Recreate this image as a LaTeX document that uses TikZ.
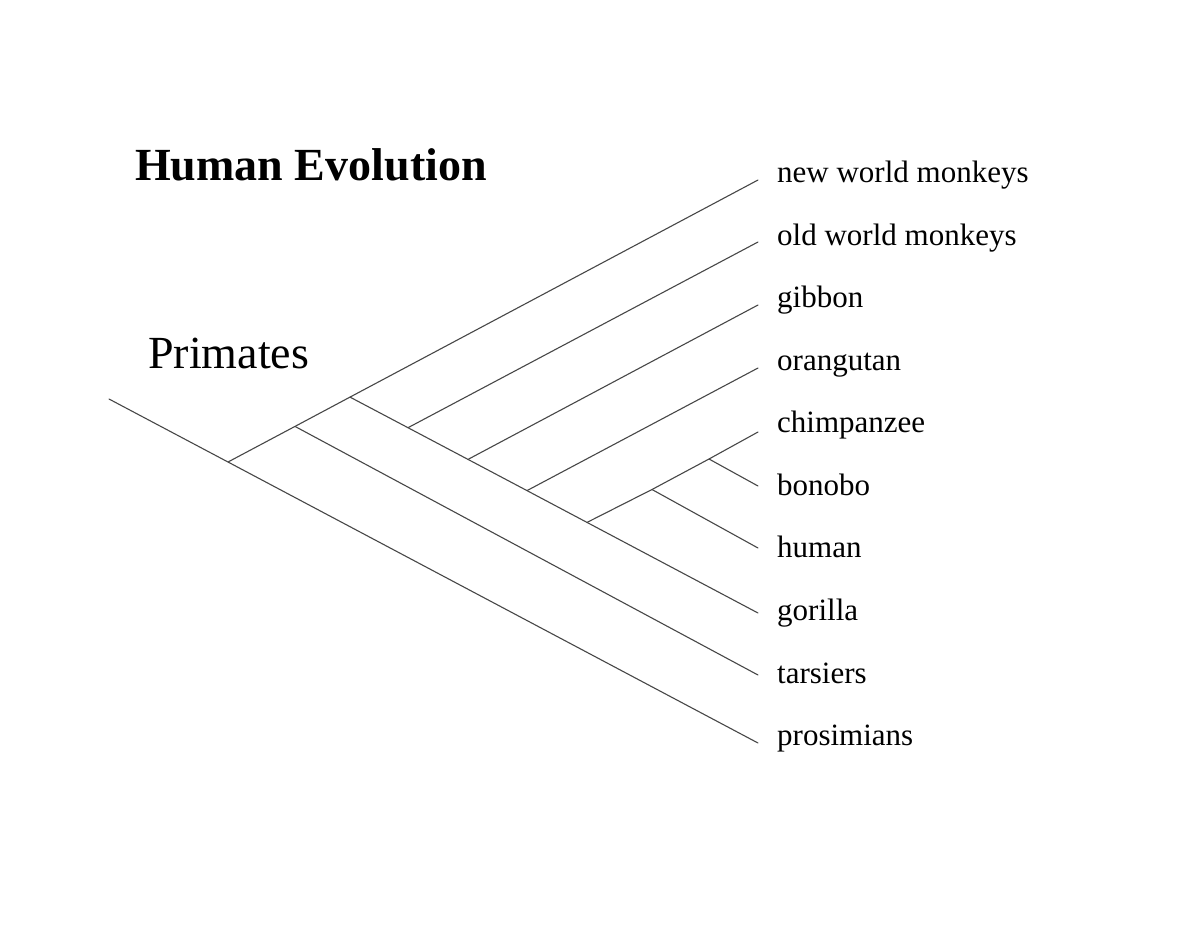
\documentclass[tikz,border=0pt]{standalone}
\usepackage{fontspec}
\setmainfont{Liberation Serif}
\begin{document}
\begin{tikzpicture}[x=1pt,y=-1pt,
  branch/.style={draw=black!72,line width=1.1pt,line cap=round},
  leaf/.style={anchor=base west,inner sep=0pt,font=\fontsize{31}{31}\selectfont},
  titletext/.style={anchor=base west,inner sep=0pt,font=\fontsize{46}{46}\selectfont\bfseries},
  subtitle/.style={anchor=base west,inner sep=0pt,font=\fontsize{46}{46}\selectfont}]
\useasboundingbox[fill=white] (0,0) rectangle (1200,927);
% titles
\node[titletext] (title) at (135,180) {Human Evolution};
\node[subtitle] (prim) at (148,368) {Primates};
% labels
\node[leaf] (nwm) at (777,182) {new world monkeys};
\node[leaf] (owm) at (777,245) {old world monkeys};
\node[leaf] (gib) at (777,307) {gibbon};
\node[leaf] (ora) at (777,370) {orangutan};
\node[leaf] (chi) at (777,432) {chimpanzee};
\node[leaf] (bon) at (777,495) {bonobo};
\node[leaf] (hum) at (777,557) {human};
\node[leaf] (gor) at (777,620) {gorilla};
\node[leaf] (tar) at (777,683) {tarsiers};
\node[leaf] (pro) at (777,745) {prosimians};
% leaf ends
\coordinate (e1) at (758,180);
\coordinate (e2) at (758,242);
\coordinate (e3) at (758,305);
\coordinate (e4) at (758,368);
\coordinate (e5) at (758,432);
\coordinate (e6) at (758,486);
\coordinate (e7) at (758,548);
\coordinate (e8) at (758,613);
\coordinate (e9) at (758,675);
\coordinate (e10) at (758,743);
% junctions
\coordinate (start) at (109,399);
\coordinate (j0) at (228,462);
\coordinate (j1) at (295,426.4);
\coordinate (j2) at (350,397.1);
\coordinate (j3) at (408,427.7);
\coordinate (j4) at (468,459.4);
\coordinate (j5) at (527,490.6);
\coordinate (j6) at (587,522.4);
\coordinate (j7) at (652,489.5);
\coordinate (j8) at (709,459);
% branches
\draw[branch] (start) -- (j0) -- (e10);
\draw[branch] (j0) -- (j1) -- (j2) -- (e1);
\draw[branch] (j1) -- (e9);
\draw[branch] (j2) -- (j3) -- (j4) -- (j5) -- (j6) -- (e8);
\draw[branch] (j3) -- (e2);
\draw[branch] (j4) -- (e3);
\draw[branch] (j5) -- (e4);
\draw[branch] (j6) -- (j7) -- (j8) -- (e5);
\draw[branch] (j7) -- (e7);
\draw[branch] (j8) -- (e6);
\end{tikzpicture}
\end{document}
